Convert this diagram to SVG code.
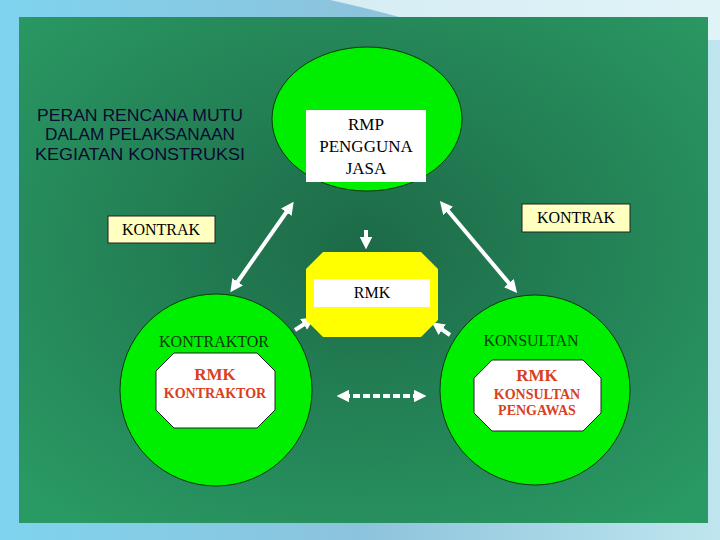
<svg xmlns="http://www.w3.org/2000/svg" width="720" height="540" viewBox="0 0 720 540">
<defs>
<linearGradient id="bg" x1="0" y1="0" x2="1" y2="0"><stop offset="0" stop-color="#7fd3ee"/><stop offset="0.5" stop-color="#8cc3dc"/><stop offset="1" stop-color="#bfe6ee"/></linearGradient>
<radialGradient id="pn" cx="0.5" cy="0.45" r="0.7"><stop offset="0" stop-color="#1d6a48"/><stop offset="1" stop-color="#2a9a64"/></radialGradient>
<marker id="ah" viewBox="0 0 10 10" refX="5" refY="5" markerWidth="3.2" markerHeight="3.2" orient="auto-start-reverse"><path d="M0,0L10,5L0,10z" fill="#fff"/></marker>
</defs>
<style>
.c{fill:#00ee00;stroke:#0a3a0a;stroke-width:1}
.t{font-family:"Liberation Serif",serif;text-anchor:middle}
.a{stroke:#fff;stroke-width:4;fill:none}
</style>
<rect width="720" height="540" fill="url(#bg)"/>
<path d="M330,0 Q420,20 470,40 L720,40 L720,0Z" fill="#e8f7fa" opacity="0.8"/>
<rect x="19" y="17" width="689" height="506" fill="url(#pn)"/>
<g id="title" font-family="Liberation Sans,sans-serif" font-size="16" fill="#0a0a30" text-anchor="middle" lengthAdjust="spacingAndGlyphs">
<text x="140" y="121" textLength="206" lengthAdjust="spacingAndGlyphs">PERAN  RENCANA MUTU</text><text x="140" y="140" textLength="190" lengthAdjust="spacingAndGlyphs">DALAM PELAKSANAAN</text><text x="140" y="160" textLength="210" lengthAdjust="spacingAndGlyphs">KEGIATAN KONSTRUKSI</text></g>
<g id="connectors">
<line class="a" x1="290" y1="207" x2="234" y2="287" marker-start="url(#ah)" marker-end="url(#ah)"/>
<line class="a" x1="444" y1="206" x2="513" y2="288" marker-start="url(#ah)" marker-end="url(#ah)"/>
<line class="a" x1="366" y1="230" x2="366" y2="243" marker-end="url(#ah)"/>
<line class="a" x1="295" y1="330" x2="309" y2="321" marker-end="url(#ah)"/>
<line class="a" x1="450" y1="335" x2="437" y2="326" marker-end="url(#ah)"/>
<line class="a" x1="343" y1="396" x2="420" y2="396" stroke-dasharray="7,3" marker-start="url(#ah)" marker-end="url(#ah)"/>
</g>
<g id="pengguna"><ellipse class="c" cx="367" cy="119" rx="95" ry="72"/><rect x="306" y="110" width="120" height="72" fill="#fff"/>
<text class="t" font-size="17" x="366" y="130">RMP</text><text class="t" font-size="17" x="366" y="152">PENGGUNA</text><text class="t" font-size="17" x="366" y="174">JASA</text></g>
<g id="kontrak1"><rect x="108" y="216" width="107" height="27" fill="#ffffc0" stroke="#222"/><text class="t" font-size="16" x="161" y="235">KONTRAK</text></g>
<g id="kontrak2"><rect x="522" y="204" width="108" height="28" fill="#ffffc0" stroke="#222"/><text class="t" font-size="16" x="576" y="223">KONTRAK</text></g>
<g id="rmk"><polygon points="323,252 421,252 438,269 438,320 421,337 323,337 306,320 306,269" fill="#ffff00"/><rect x="314" y="279" width="116" height="28" fill="#fff"/><text class="t" font-size="16" x="372" y="298">RMK</text></g>
<g id="kontraktor"><circle class="c" cx="216" cy="390" r="96"/><text class="t" font-size="16" fill="#0a3a0a" x="214" y="347">KONTRAKTOR</text>
<polygon points="174,353 257,353 275,371 275,410 257,428 174,428 156,410 156,371" fill="#fff" stroke="#222"/>
<text class="t" font-size="17" font-weight="bold" fill="#d84020" x="215" y="380">RMK</text><text class="t" font-size="14" font-weight="bold" fill="#d84020" x="215" y="398">KONTRAKTOR</text></g>
<g id="konsultan"><circle class="c" cx="535" cy="390" r="95"/><text class="t" font-size="16" fill="#0a3a0a" x="531" y="346">KONSULTAN</text>
<polygon points="492,360 583,360 601,378 601,413 583,431 492,431 474,413 474,378" fill="#fff" stroke="#222"/>
<text class="t" font-size="17" font-weight="bold" fill="#d84020" x="537" y="381">RMK</text><text class="t" font-size="14" font-weight="bold" fill="#d84020" x="537" y="399">KONSULTAN</text><text class="t" font-size="14" font-weight="bold" fill="#d84020" x="537" y="415">PENGAWAS</text></g>
</svg>
